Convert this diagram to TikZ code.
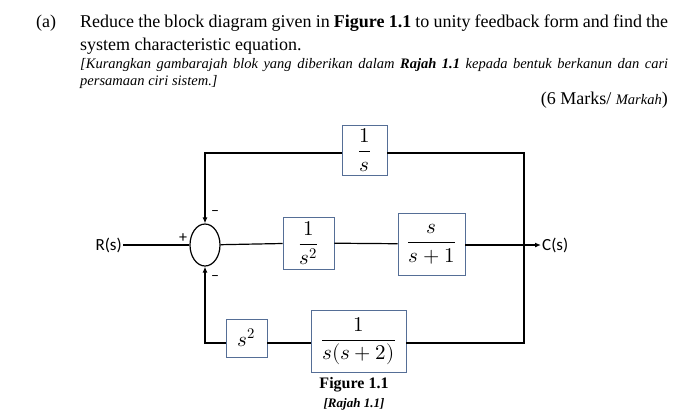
\documentclass[tikz,border=0pt]{standalone}
\usepackage{unicode-math}
\setmainfont{Liberation Serif}
\setmathfont{Latin Modern Math}
\newfontfamily\calfont{Carlito}
\usetikzlibrary{arrows.meta,shapes.geometric}
\definecolor{bx}{RGB}{85,110,150}
\begin{document}
\begin{tikzpicture}[x=1pt,y=-1pt,
 blk/.style={draw=bx,line width=0.9pt,inner sep=0pt,font=\fontsize{21}{21}\selectfont},
 ln/.style={line width=1.2pt},
 ar/.style={ln,-{Latex[length=6pt,width=5pt]}},
 sg/.style={font=\calfont\fontsize{17}{17}\selectfont},
 pm/.style={font=\calfont\fontsize{16}{16}\selectfont,inner sep=0pt}]
\useasboundingbox (0,0) rectangle (700,415);
\node[anchor=base west,inner sep=0pt,font=\fontsize{18}{18}\selectfont] (a) at (36,27) {(a)};
\node[anchor=base west,inner sep=0pt,font=\fontsize{18}{18}\selectfont] (l1) at (80,27) {\makebox[588pt][s]{Reduce the block diagram given in \textbf{Figure 1.1} to unity feedback form and find the}};
\node[anchor=base west,inner sep=0pt,font=\fontsize{18}{18}\selectfont] (l2) at (80,50) {system characteristic equation.};
\node[anchor=base west,inner sep=0pt,font=\fontsize{14.5}{14.5}\selectfont\itshape] (l3) at (80,68) {\makebox[588pt][s]{[Kurangkan gambarajah blok yang diberikan dalam \textbf{Rajah 1.1} kepada bentuk berkanun dan cari}};
\node[anchor=base west,inner sep=0pt,font=\fontsize{14.5}{14.5}\selectfont\itshape] (l4) at (80,85) {persamaan ciri sistem.]};
\node[anchor=base east,inner sep=0pt,font=\fontsize{18}{18}\selectfont] (mk) at (668,104) {(6 Marks/ {\fontsize{14.5}{14.5}\selectfont\itshape Markah})};
% blocks
\node[blk,minimum width=45pt,minimum height=50pt] (b1) at (364.5,150) {$\displaystyle\frac{1}{s}$};
\node[blk,minimum width=51pt,minimum height=52pt] (b2) at (308.5,243) {$\displaystyle\frac{1}{s^2}$};
\node[blk,minimum width=67pt,minimum height=62pt] (b3) at (431.5,244) {$\displaystyle\frac{s}{s+1}$};
\node[blk,minimum width=41pt,minimum height=38pt] (b4) at (246.5,338) {$s^2$};
\node[blk,minimum width=95pt,minimum height=62pt] (b5) at (358.5,341) {$\displaystyle\frac{1}{s(s+2)}$};
\node[draw,ln,ellipse,minimum width=30pt,minimum height=42pt,inner sep=0pt] (sum) at (205,245) {};
\node[sg,anchor=east,inner sep=1pt] (R) at (123,245) {R(s)};
\node[sg,anchor=west,inner sep=1pt] (C) at (541,245) {C(s)};
\coordinate (o) at (524,245);
\coordinate (tr) at (524,153);
\coordinate (tl) at (205,153);
\coordinate (br) at (524,343);
\coordinate (bl) at (205,343);
\draw[ln] (R) -- (sum);
\draw[ln] (sum) -- (b2);
\draw[ln] (b2) -- (b3);
\draw[ar] (b3.east|-o) -- (C);
\draw[ln] (o) -- (tr) -- (b1.east|-tr);
\draw[ar] (b1.west|-tl) -- (tl) -- (sum.north);
\draw[ln] (o) -- (br) -- (b5.east|-br);
\draw[ln] (b5.west|-br) -- (b4.east|-br);
\draw[ar] (b4.west|-br) -- (bl) -- (sum.south);
\node[pm] (p) at (183,238) {+};
\node[pm] (m1) at (215,213) {\textendash};
\node[pm] (m2) at (215,278) {\textendash};
\node[font=\fontsize{16}{16}\selectfont\bfseries] (f) at (354,385) {Figure 1.1};
\node[font=\fontsize{13}{13}\selectfont\bfseries\itshape] (r) at (354,404) {[Rajah 1.1]};
\end{tikzpicture}
\end{document}
